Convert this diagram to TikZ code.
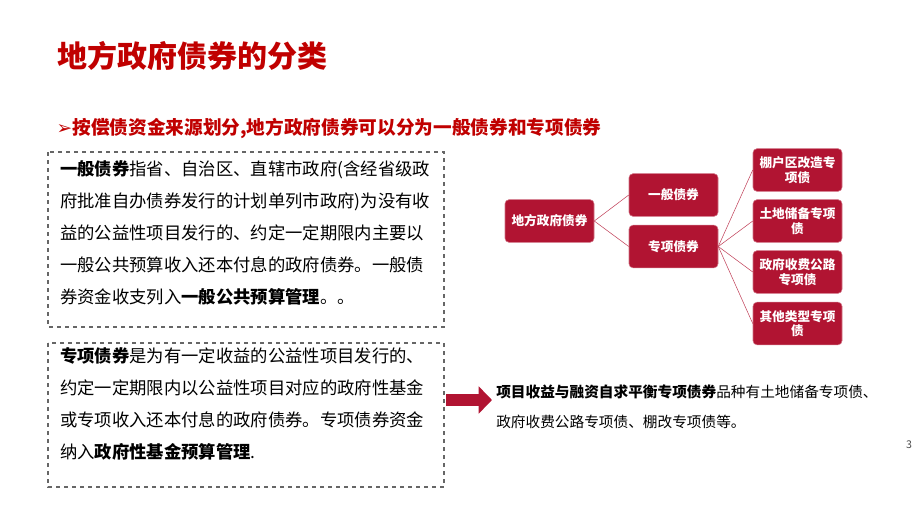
\documentclass[tikz,border=0pt]{standalone}
\usepackage{fontspec}
\setmainfont{Noto Sans CJK SC}
\newfontfamily\cjk{Noto Sans CJK SC}
\usetikzlibrary{positioning}
\usetikzlibrary{arrows.meta}
\definecolor{darkred}{RGB}{192,0,0}
\definecolor{boxred}{RGB}{177,20,50}

\begin{document}
\begin{tikzpicture}[x=0.75pt, y=-0.75pt]
    \tikzset{
        treebox/.style={fill=boxred, draw=boxred!60, rounded corners=3,
            text=white, font=\fontsize{9.5}{11}\selectfont\bfseries,
            align=center, minimum width=66.75pt, minimum height=32pt,
            inner sep=1pt},
        link/.style={draw=boxred!80, thin},
        textbox/.style={draw=black!60, dashed, thick},
        bodytext/.style={font=\fontsize{13}{24}\selectfont, align=left,
            anchor=north west, inner sep=0pt}
    }
\useasboundingbox (0,0) rectangle (920,518);

% title
\node[anchor=west, text=darkred, font=\fontsize{22.5}{26}\selectfont\bfseries]
    (title) at (53,56) {地方政府债券的分类};
\node[anchor=west, text=darkred, font=\fontsize{14}{16}\selectfont\bfseries]
    (subtitle) at (52,128) {\fontspec{DejaVu Sans}➢\cjk 按偿债资金来源划分,地方政府债券可以分为一般债券和专项债券};

% left boxes
\draw[textbox] (48,152) rectangle (444,327);
\node[bodytext] (gen) at (60,160) {\textbf{一般债券}指省、自治区、直辖市政府(含经省级政\\
府批准自办债券发行的计划单列市政府)为没有收\\
益的公益性项目发行的、约定一定期限内主要以\\
一般公共预算收入还本付息的政府债券。一般债\\
券资金收支列入\textbf{一般公共预算管理}。。};

\draw[textbox] (48,343) rectangle (444,487);
\node[bodytext] (spec) at (60,347) {\textbf{专项债券}是为有一定收益的公益性项目发行的、\\
约定一定期限内以公益性项目对应的政府性基金\\
或专项收入还本付息的政府债券。专项债券资金\\
纳入\textbf{政府性基金预算管理}.};

% arrow
\coordinate (arrow-s) at (446,400);
\coordinate (arrow-e) at (492,400);
\draw[line width=9pt, boxred, -{Triangle[length=10pt, width=20pt]}] (arrow-s) -- (arrow-e);
\node[anchor=north west, inner sep=0pt, font=\fontsize{11}{22}\selectfont, align=left]
    (note) at (496,385) {\textbf{项目收益与融资自求平衡专项债券}品种有土地储备专项债、\\政府收费公路专项债、棚改专项债等。};

% tree
\node[treebox] (root) at (549.5,221) {地方政府债券};
\node[treebox] (general) at (673.5,195) {一般债券};
\node[treebox] (special) at (673.5,246.5) {专项债券};
\node[treebox] (shed) at (797.5,170) {棚户区改造专\\项债};
\node[treebox] (land) at (797.5,221) {土地储备专项\\债};
\node[treebox] (road) at (797.5,272) {政府收费公路\\专项债};
\node[treebox] (other) at (797.5,323.5) {其他类型专项\\债};

\foreach \t in {general, special}
    \draw[link] (root.east) -- (\t.west);
\foreach \t in {shed, land, road, other}
    \draw[link] (special.east) -- (\t.west);

\node[font=\fontsize{8}{10}\selectfont, text=black!70] (page) at (909,445) {3};
\end{tikzpicture}
\end{document}
